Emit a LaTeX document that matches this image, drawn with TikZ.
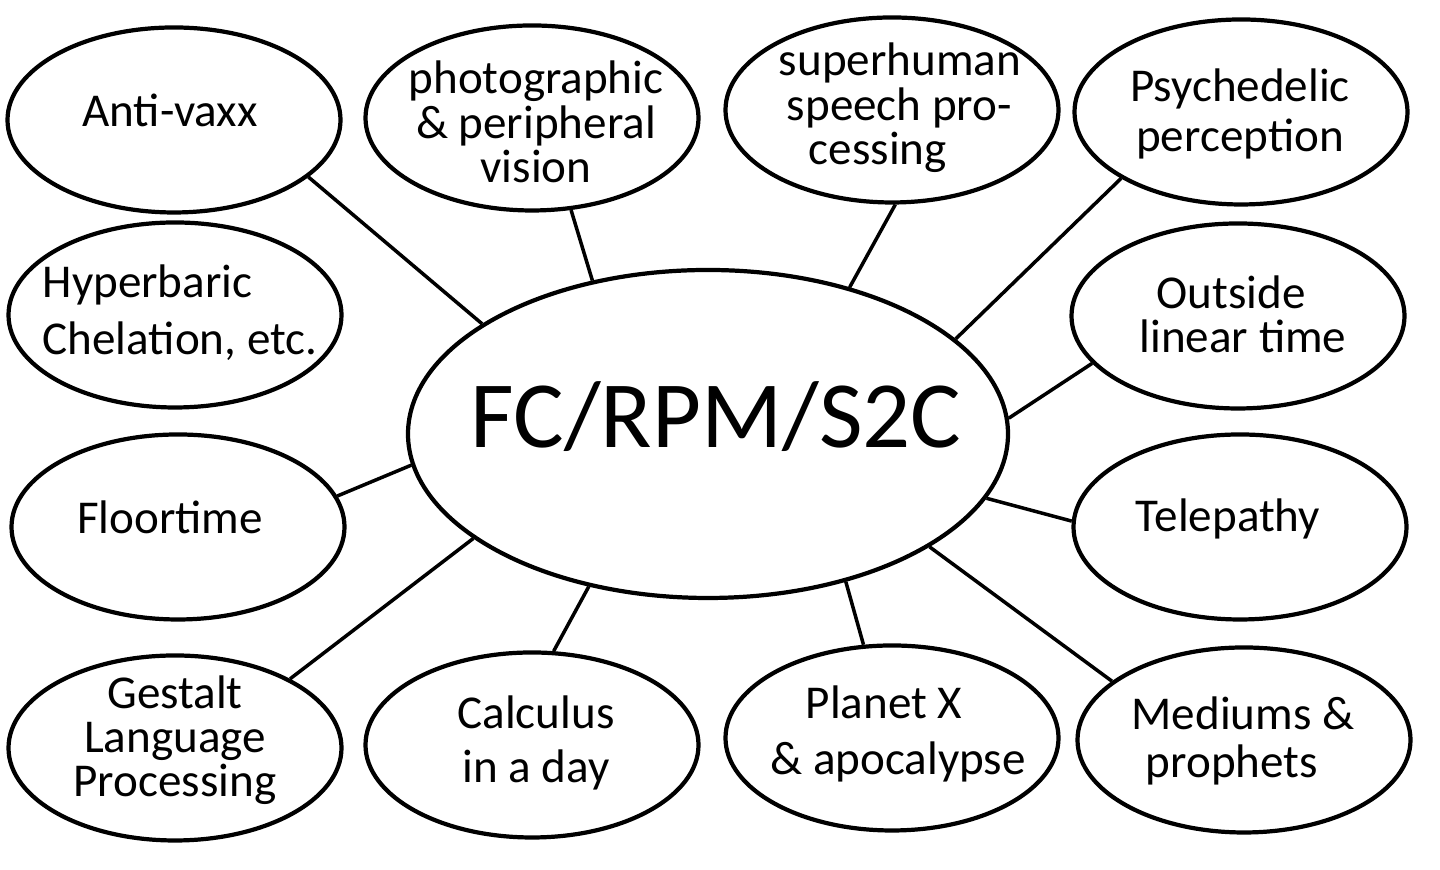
\documentclass[tikz,border=0pt]{standalone}
\usepackage{fontspec}
\setmainfont{Carlito}
\usepackage{xcolor}
\usetikzlibrary{shapes,positioning}

\tikzset{
    bubble/.style={
        ellipse,
        draw,
        line width=1.2pt,
        minimum width=3.33cm,
        minimum height=1.85cm,
        inner sep=0pt
    },
    hub/.style={
        ellipse,
        draw,
        line width=1.2pt,
        minimum width=6.0cm,
        minimum height=3.28cm,
        inner sep=0pt
    },
    txt/.style={
        align=center,
        inner sep=0pt,
        font=\fontsize{13.4}{12.6}\selectfont
    },
    link/.style={
        line width=1pt
    }
}

\begin{document}
\begin{tikzpicture}
                \fill[white] (0,0) rectangle (14.4,8.7);
                \useasboundingbox (0,0) rectangle (14.4,8.7);

                % centre
                \node[hub] (hub) at (7.08,4.36) {};
                \node[font=\fontsize{27}{30}\selectfont, inner sep=0pt] (hub-txt) at (7.16,4.53) {FC/RPM/S2C};

                % top row
                \node[bubble] (antivaxx) at (1.74,7.50) {};
                \node[txt] (antivaxx-txt) at (1.70,7.60) {Anti-vaxx};

                \node[bubble] (photo) at (5.32,7.52) {};
                \node[txt] (photo-txt) at (5.36,7.48) {photographic\\\& peripheral\\vision};

                \node[bubble] (speech) at (8.92,7.60) {};
                \node[txt, align=left] (speech-txt) at (9.00,7.62) {superhuman\\\hspace{0.08cm}speech pro-\\\hspace{0.3cm}cessing};

                \node[bubble] (psyche) at (12.41,7.58) {};
                \node[txt] (psyche-txt) at (12.40,7.56) {Psychedelic\\[1.5pt]perception};

                % second row
                \node[bubble] (hyper) at (1.75,5.55) {};
                \node[txt, align=left] (hyper-txt) at (1.80,5.57) {Hyperbaric\\[3.6pt]Chelation, etc.};

                \node[bubble] (outside) at (12.38,5.54) {};
                \node[txt] (outside-txt) at (12.43,5.56) {Outside\hspace{0.24cm}\mbox{}\\linear time};

                % third row
                \node[bubble] (floor) at (1.78,3.43) {};
                \node[txt] (floor-txt) at (1.70,3.53) {Floortime};

                \node[bubble] (telepathy) at (12.40,3.43) {};
                \node[txt] (telepathy-txt) at (12.28,3.51) {Telepathy};

                % bottom row
                \node[bubble] (gestalt) at (1.75,1.22) {};
                \node[txt] (gestalt-txt) at (1.75,1.30) {Gestalt\\Language\\Processing};

                \node[bubble] (calculus) at (5.32,1.25) {};
                \node[txt] (calculus-txt) at (5.36,1.27) {Calculus\\[2.7pt]in a day};

                \node[bubble] (planet) at (8.92,1.32) {};
                \node[txt] (planet-txt) at (8.98,1.36) {Planet X\hspace{0.28cm}\mbox{}\\[3.2pt]\& apocalypse};

                \node[bubble] (mediums) at (12.44,1.30) {};
                \node[txt] (mediums-txt) at (12.43,1.29) {Mediums \&\\[0.8pt]prophets\hspace{0.22cm}\mbox{}};

                % spokes
                \draw[link] (antivaxx.-23) -- (hub.154);
                \draw[link] (photo.-67) -- (hub.127);
                \draw[link] (speech.-88) -- (hub.46);
                \draw[link] (psyche.-151) -- (hub.21);
                \draw[link] (outside.-162) -- (hub.3);
                \draw[link] (floor.11) -- (hub.186);
                \draw[link] (telepathy.178) -- (hub.-13);
                \draw[link] (gestalt.31) -- (hub.-156);
                \draw[link] (calculus.77) -- (hub.-128);
                \draw[link] (planet.107) -- (hub.-47);
                \draw[link] (mediums.156) -- (hub.-27);

             \end{tikzpicture}
\end{document}
